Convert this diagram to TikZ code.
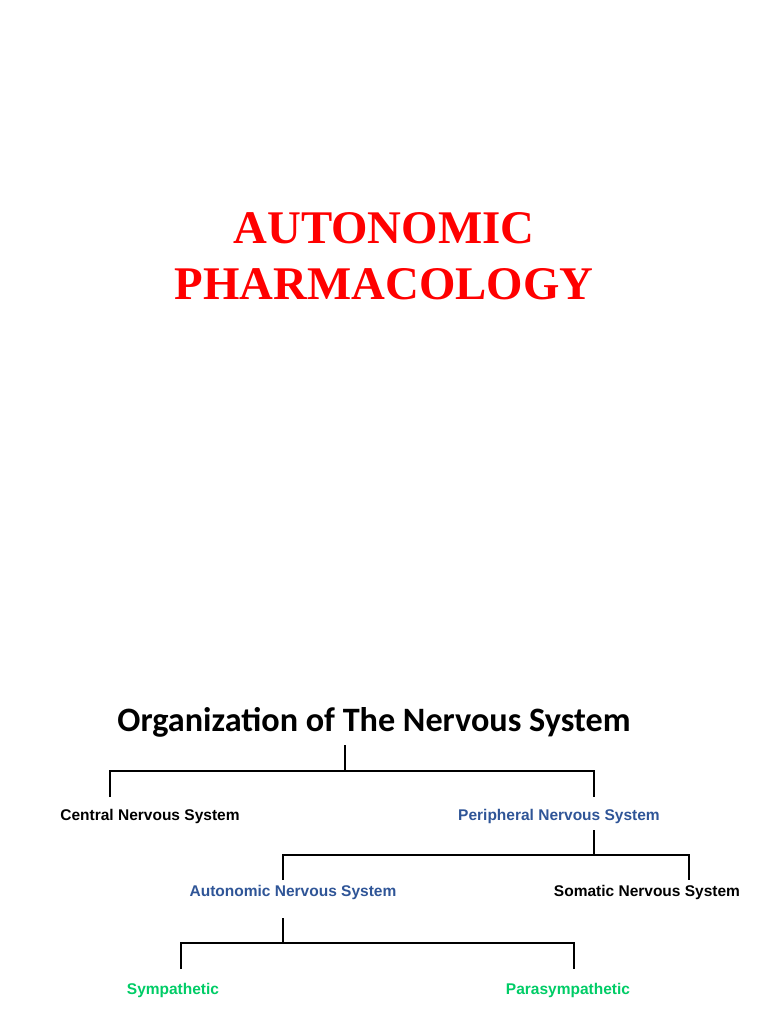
\documentclass[tikz,border=0pt]{standalone}
\usepackage{fontspec}
\setmainfont{Liberation Serif}
\newfontfamily\arial{Liberation Sans}
\newfontfamily\calib{Carlito}
\definecolor{titlered}{RGB}{255,0,0}
\definecolor{pnsblue}{RGB}{47,85,151}
\definecolor{symgreen}{RGB}{0,204,102}
\begin{document}
\begin{tikzpicture}[x=1pt,y=-1pt,
  lbl/.style={font=\arial\bfseries\fontsize{15.5}{18}\selectfont, inner sep=0pt, anchor=center},
  tree/.style={line width=2.8pt}]
\useasboundingbox (0,0) rectangle (768,1024);
\node[font=\bfseries\fontsize{46.8}{56}\selectfont, text=titlered, align=center] (title) at (384,256) {AUTONOMIC\\PHARMACOLOGY};
\node[font=\calib\bfseries\fontsize{34.2}{40}\selectfont] (org) at (374,722) {Organization of The Nervous System};
\node[lbl] (cns) at (150,816) {Central Nervous System};
\node[lbl, text=pnsblue] (pns) at (559,816) {Peripheral Nervous System};
\node[lbl, text=pnsblue] (ans) at (293,892) {Autonomic Nervous System};
\node[lbl] (sns) at (647,892) {Somatic Nervous System};
\node[lbl, text=symgreen] (sym) at (173,990) {Sympathetic};
\node[lbl, text=symgreen] (para) at (568,990) {Parasympathetic};
\coordinate (t1) at (345,745);
\coordinate (t2) at (594,830);
\coordinate (t3) at (283,918);
\draw[tree] (t1) -- (345,771);
\draw[tree] (110,797) -- (110,771) -- (594,771) -- (594,797);
\draw[tree] (t2) -- (594,855);
\draw[tree] (283,880) -- (283,855) -- (689,855) -- (689,880);
\draw[tree] (t3) -- (283,943);
\draw[tree] (181,969) -- (181,943) -- (574,943) -- (574,969);
\end{tikzpicture}
\end{document}
